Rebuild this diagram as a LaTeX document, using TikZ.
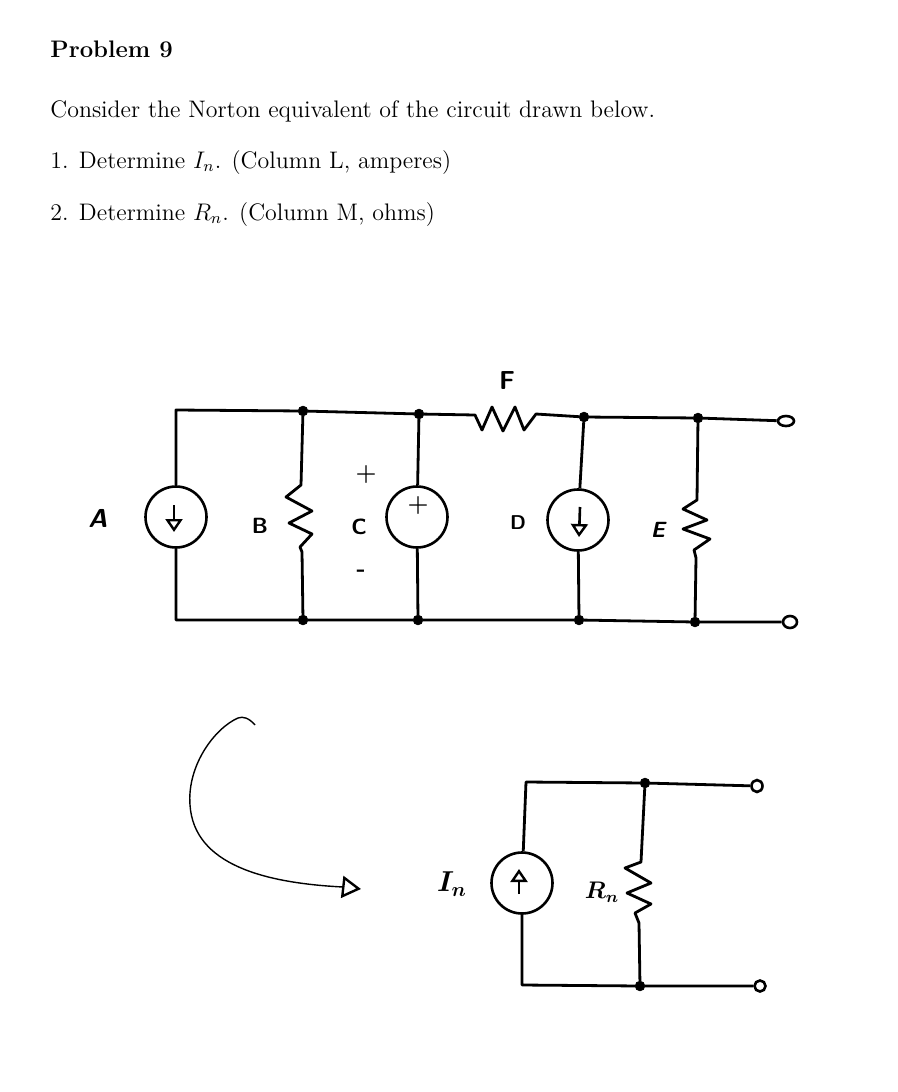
\documentclass[tikz,border=0pt]{standalone}
\usetikzlibrary{arrows.meta}
\usetikzlibrary{shapes.geometric}

\tikzset{
    wire/.style={line width=1.4pt, line join=round},
    source/.style={draw, circle, line width=1.3pt, minimum size=30.5pt, inner sep=0pt},
    junction/.style={draw, fill, circle, minimum size=4.8pt, inner sep=0pt},
    terminal/.style={draw, ellipse, line width=1.3pt, minimum width=7pt, minimum height=5pt, inner sep=0pt},
    probe/.style={line width=1.3pt, -{Triangle[open, length=6.5pt, width=8.5pt, line width=1.2pt]}},
    prose/.style={anchor=base west, inner sep=0pt, font=\fontsize{11.95}{14}\selectfont},
    hand/.style={inner sep=0pt, font=\sffamily\bfseries\fontsize{10}{12}\selectfont},
    handsign/.style={inner sep=0pt, font=\bfseries\fontsize{12}{14}\selectfont},
}

\begin{document}
\begin{tikzpicture}[x=0.5pt, y=-0.5pt]
        \useasboundingbox (0,0) rectangle (898,1092);

        % text of the problem
        \node[prose, font=\bfseries\fontsize{11.95}{14}\selectfont] (title) at (50,57) {Problem 9};
        \node[prose] (intro) at (50,117) {Consider the Norton equivalent of the circuit drawn below.};
        \node[prose] (itemL) at (50,168) {1. Determine $I_n$. (Column L, amperes)};
        \node[prose] (itemM) at (50,220) {2. Determine $R_n$. (Column M, ohms)};

        % upper circuit
        \coordinate (cornerTL) at (176,410);
        \coordinate (cornerBL) at (176,620);
        \node[junction] (topB) at (303,411) {};
        \node[junction] (topC) at (419,414) {};
        \node[junction] (topD) at (584,417) {};
        \node[junction] (topE) at (698,418) {};
        \node[junction] (botB) at (303,620) {};
        \node[junction] (botC) at (418,620) {};
        \node[junction] (botD) at (579,620) {};
        \node[junction] (botE) at (695,622) {};
        \node[terminal, minimum width=8pt] (outT) at (786,421) {};
        \node[terminal, minimum height=6pt] (outB) at (790,622) {};
        \node[source] (srcA) at (176,517) {};
        \node[source] (srcC) at (417,517) {};
        \node[source] (srcD) at (578,520) {};

        \draw[wire] (srcA) -- (cornerTL) -- (topB) -- (topC);
        \draw[wire] (srcA) -- (cornerBL) -- (botB) -- (botC) -- (botD) -- (botE) -- (outB);
        \draw[wire] (topD) -- (topE) -- (outT);
        \draw[wire] (topC) -- (srcC) -- (botC);
        \draw[wire] (topD) -- (srcD) -- (botD);
        \draw[wire] (topC) -- (475,415) -- (482,430) -- (492,407) -- (503,431)
            -- (515,407) -- (524,430) -- (536,414) -- (topD);
        \draw[wire] (topB) -- (301,485) -- (286,497) -- (312,511) -- (289,523)
            -- (312,534) -- (300,547) -- (302,552) -- (botB);
        \draw[wire] (topE) -- (697,500) -- (683,509) -- (707,520) -- (683,529)
            -- (710,539) -- (694,550) -- (696,558) -- (botE);

        \draw[probe] ([xshift=-1pt, yshift=6pt]srcA.center) -- ([xshift=-1pt, yshift=-7.5pt]srcA.center);
        \draw[probe] ([xshift=1pt, yshift=6.5pt]srcD.center) -- ([xshift=0.5pt, yshift=-8.5pt]srcD.center);

        \node[hand, font=\sffamily\bfseries\itshape\fontsize{13}{15}\selectfont] (labelA) at (98,518) {A};
        \node[hand, font=\sffamily\bfseries\fontsize{11}{13}\selectfont] (labelB) at (260,526) {B};
        \node[handsign] (plusC) at (366,475) {+};
        \node[hand, font=\sffamily\bfseries\fontsize{11}{13}\selectfont] (labelC) at (359,527) {C};
        \node[handsign] (minusC) at (361,573) {-};
        \node[handsign] (plusSrc) at (418,506) {+};
        \node[hand] (labelD) at (518,523) {D};
        \node[hand, font=\sffamily\bfseries\itshape\fontsize{11}{13}\selectfont] (labelE) at (658,530) {E};
        \node[hand, font=\sffamily\bfseries\fontsize{13}{15}\selectfont] (labelF) at (507,381) {F};

        % the arrow between the two
        \coordinate (sweepA) at (255,725);
        \coordinate (sweepB) at (343,887);
        \draw[line width=0.7pt, -{Triangle[open, length=9.5pt, width=11pt, line width=1.2pt]}]
            (sweepA) .. controls (249,718) and (243,716) .. (238,718)
            .. controls (215,728) and (187,765) .. (190,805)
            .. controls (194,865) and (265,883) .. (sweepB) -- (361,889);

        % lower circuit
        \coordinate (normTL) at (526,782);
        \coordinate (normBL) at (522,985);
        \node[junction] (topR) at (645,783) {};
        \node[junction] (botR) at (640,986) {};
        \node[terminal, minimum width=5.5pt, minimum height=6pt] (normT) at (757,786) {};
        \node[terminal, minimum width=5.5pt, minimum height=5.5pt] (normB) at (760,986) {};
        \node[source] (srcN) at (522,883) {};

        \draw[wire] (srcN) -- (normTL) -- (topR) -- (normT);
        \draw[wire] (srcN) -- (normBL) -- (botR) -- (normB);
        \draw[wire] (topR) -- (641,862) -- (625,868) -- (651,883) -- (627,893)
            -- (651,904) -- (635,913) -- (639,923) -- (botR);

        \draw[probe] ([xshift=-1.5pt, yshift=-5.5pt]srcN.center) -- ([xshift=-1.5pt, yshift=7pt]srcN.center);

        \node[hand, font=\boldmath\fontsize{14}{16}\selectfont] (labelIn) at (452,884) {$I_n$};
        \node[hand, font=\boldmath\fontsize{12}{14}\selectfont] (labelRn) at (602,892) {$R_n$};
    \end{tikzpicture}
\end{document}
